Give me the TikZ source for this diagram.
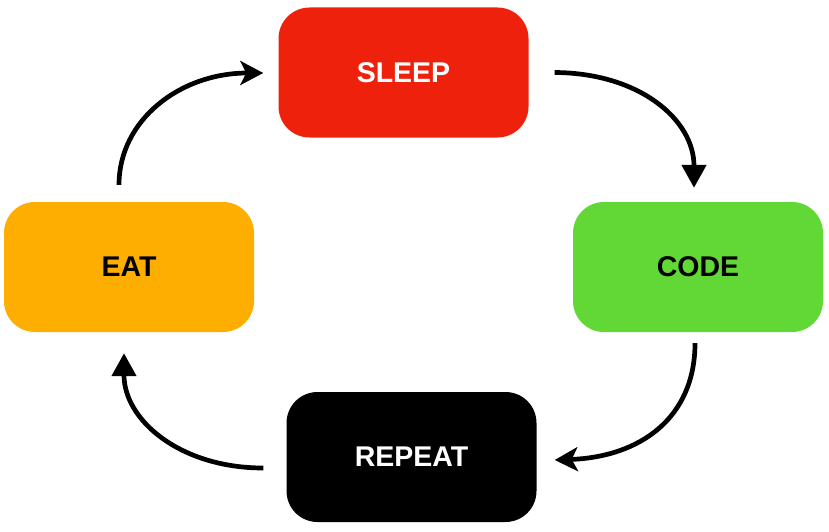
\documentclass[tikz,border=0pt]{standalone}
\usepackage{fontspec}
\setmainfont{Liberation Sans}
\usetikzlibrary{arrows.meta,calc}
\definecolor{kred}{HTML}{EE220C}
\definecolor{korange}{HTML}{FEAE00}
\definecolor{kgreen}{HTML}{61D836}
\begin{document}
\begin{tikzpicture}[x=1pt,y=-1pt,
  box/.style={rounded corners=31pt,minimum width=250pt,minimum height=130pt,inner sep=0pt,
    font=\fontsize{28.5}{31}\selectfont\bfseries},
  conn/.style={line width=4.7pt},
  tri/.style={-{Triangle[length=23pt,width=24pt]}},
  stl/.style={-{Stealth[length=23pt,width=24pt,inset=6pt]}}]
\useasboundingbox (0,0) rectangle (829,532);
\node[box,fill=kred,text=white] (sleep) at (403.5,72.5) {SLEEP};
\node[box,fill=kgreen,text=black] (code) at (698,267) {CODE};
\node[box,fill=black,text=white] (repeat) at (411.5,457) {REPEAT};
\node[box,fill=korange,text=black] (eat) at (129,267) {EAT};
% connector ends
\coordinate (s1) at ($(sleep.east)+(26,0)$);
\coordinate (c0) at ($(code.north)+(-4,-14)$);
\coordinate (c1) at ($(code.south)+(-3,11)$);
\coordinate (r0) at ($(repeat.east)+(18,3)$);
\coordinate (r1) at ($(repeat.west)+(-23,11)$);
\coordinate (e0) at ($(eat.south)+(-5,21)$);
\coordinate (e1) at ($(eat.north)+(-10,-17)$);
\coordinate (s0) at ($(sleep.west)+(-15,0.5)$);
\draw[conn,tri] (s1) .. controls (640,73) and (694,120) .. (c0);
\draw[conn,stl] (c1) .. controls (695,418) and (640,457) .. (r0);
\draw[conn,tri] (r1) .. controls (180,468) and (124,420) .. (e0);
\draw[conn,stl] (e1) .. controls (119,120) and (180,73) .. (s0);
\end{tikzpicture}
\end{document}
